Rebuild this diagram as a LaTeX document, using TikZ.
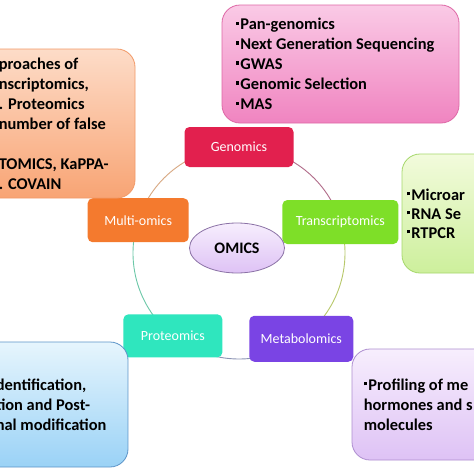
\documentclass[tikz,border=0pt]{standalone}
\usepackage{fontspec}
\setmainfont{Carlito}
\usetikzlibrary{positioning,shapes.geometric}

\definecolor{genred}{HTML}{E2204E}
\definecolor{multorange}{HTML}{F47A2E}
\definecolor{transgreen}{HTML}{7EDF28}
\definecolor{protteal}{HTML}{2FE6BE}
\definecolor{metviolet}{HTML}{7A44E4}
\definecolor{ringGT}{HTML}{B06A88}
\definecolor{ringTM}{HTML}{B8C86A}
\definecolor{ringMP}{HTML}{8C94B4}
\definecolor{ringPM}{HTML}{6CC8A8}
\definecolor{ringMG}{HTML}{D8A882}
% note box shades
\definecolor{peachtop}{HTML}{FDDCC8}
\definecolor{peachbot}{HTML}{F8A474}
\definecolor{peachline}{HTML}{F29A68}
\definecolor{pinktop}{HTML}{FACAE6}
\definecolor{pinkbot}{HTML}{F084C0}
\definecolor{pinkline}{HTML}{DE68A6}
\definecolor{limetop}{HTML}{F2FBDC}
\definecolor{limebot}{HTML}{CDEF9C}
\definecolor{limeline}{HTML}{A6D86C}
\definecolor{skytop}{HTML}{E6F5FD}
\definecolor{skybot}{HTML}{9AD2F6}
\definecolor{skyline}{HTML}{5C94C8}
\definecolor{lilactop}{HTML}{F7EEFD}
\definecolor{lilacbot}{HTML}{DEC2F5}
\definecolor{lilacline}{HTML}{AE8ED0}

\newcommand{\sqbul}{\raisebox{0.3em}{\rule{0.2em}{0.2em}}\hspace{0.08em}}

\begin{document}
\begin{tikzpicture}[x=1pt,y=-1pt,
  omicbox/.style={rounded corners=5pt,inner sep=0pt,text=white,
    font=\fontsize{14}{16}\selectfont},
  notebox/.style={rounded corners=18pt,line width=0.8pt},
  notetext/.style={align=left,inner sep=0pt,font=\bfseries\fontsize{16.4}{20}\selectfont},
  ring/.style={line width=0.9pt}]
% canvas
\useasboundingbox (0,0) rectangle (474,474);
\clip (0,0) rectangle (474,474);
\fill[white] (0,0) rectangle (474,474);

% ring behind the boxes
\coordinate (hub) at (239,253);
\draw[ring,ringGT] ([shift={(-90:106)}]hub) arc[start angle=-90,end angle=-17,radius=106];
\draw[ring,ringTM] ([shift={(-17:106)}]hub) arc[start angle=-17,end angle=54,radius=106];
\draw[ring,ringMP] ([shift={(54:106)}]hub) arc[start angle=54,end angle=128,radius=106];
\draw[ring,ringPM] ([shift={(128:106)}]hub) arc[start angle=128,end angle=198,radius=106];
\draw[ring,ringMG] ([shift={(198:106)}]hub) arc[start angle=198,end angle=270,radius=106];

% omics boxes on the ring
\node[omicbox,fill=genred,minimum width=109pt,minimum height=40pt] (genomics) at ([shift={(-90:106)}]hub) {Genomics};
\node[omicbox,fill=transgreen,minimum width=116pt,minimum height=44pt] (transcriptomics) at ([shift={(-17:106)}]hub) {Transcriptomics};
\node[omicbox,fill=metviolet,minimum width=104pt,minimum height=46pt] (metabolomics) at ([shift={(54:106)}]hub) {Metabolomics};
\node[omicbox,fill=protteal,minimum width=99pt,minimum height=43pt] (proteomics) at ([shift={(128.6:106)}]hub) {Proteomics};
\node[omicbox,fill=multorange,minimum width=101pt,minimum height=44pt] (multiomics) at ([shift={(198:106)}]hub) {Multi-omics};
\node[ellipse,draw=lilacline!80!black,line width=0.8pt,top color=lilactop,bottom color=lilacbot,
  minimum width=95pt,minimum height=50pt,font=\bfseries\fontsize{16}{18}\selectfont] (omics) at ([shift={(-2,-5)}]hub) {OMICS};

% note boxes
\node[notebox,draw=peachline,top color=peachtop,bottom color=peachbot,
  minimum width=165pt,minimum height=149pt] (multinote) at (52.5,123.5) {};
\node[notetext,right=29pt of multinote.west] (multitext)
  {proaches of\\nscriptomics,\\. Proteomics\\number of false\\[20pt]TOMICS, KaPPA-\\. COVAIN};

\node[notebox,draw=pinkline,top color=pinktop,bottom color=pinkbot,
  minimum width=237pt,minimum height=118pt] (gennote) at (340.5,64) {};
\node[notetext,right=14pt of gennote.west] (gentext)
  {\sqbul Pan-genomics\\\sqbul Next Generation Sequencing\\\sqbul GWAS\\\sqbul Genomic Selection\\\sqbul MAS};

\node[notebox,draw=limeline,top color=limetop,bottom color=limebot,
  minimum width=128pt,minimum height=119pt] (transnote) at (466,213.5) {};
\node[notetext,right=5pt of transnote.west,font=\bfseries\fontsize{16.4}{19}\selectfont] (transtext)
  {\sqbul Microar\\\sqbul RNA Se\\\sqbul RTPCR};

\node[notebox,draw=skyline,top color=skytop,bottom color=skybot,
  minimum width=158pt,minimum height=125pt] (protnote) at (49,404.5) {};
\node[notetext,right=26pt of protnote.west] (prottext)
  {dentification,\\tion and Post-\\nal modification};

\node[notebox,draw=lilacline,top color=lilactop,bottom color=lilacbot,
  minimum width=178pt,minimum height=111pt] (metnote) at (441,404.5) {};
\node[notetext,right=12pt of metnote.west] (mettext)
  {\sqbul Profiling of me\\hormones and s\\molecules};
\end{tikzpicture}
\end{document}
